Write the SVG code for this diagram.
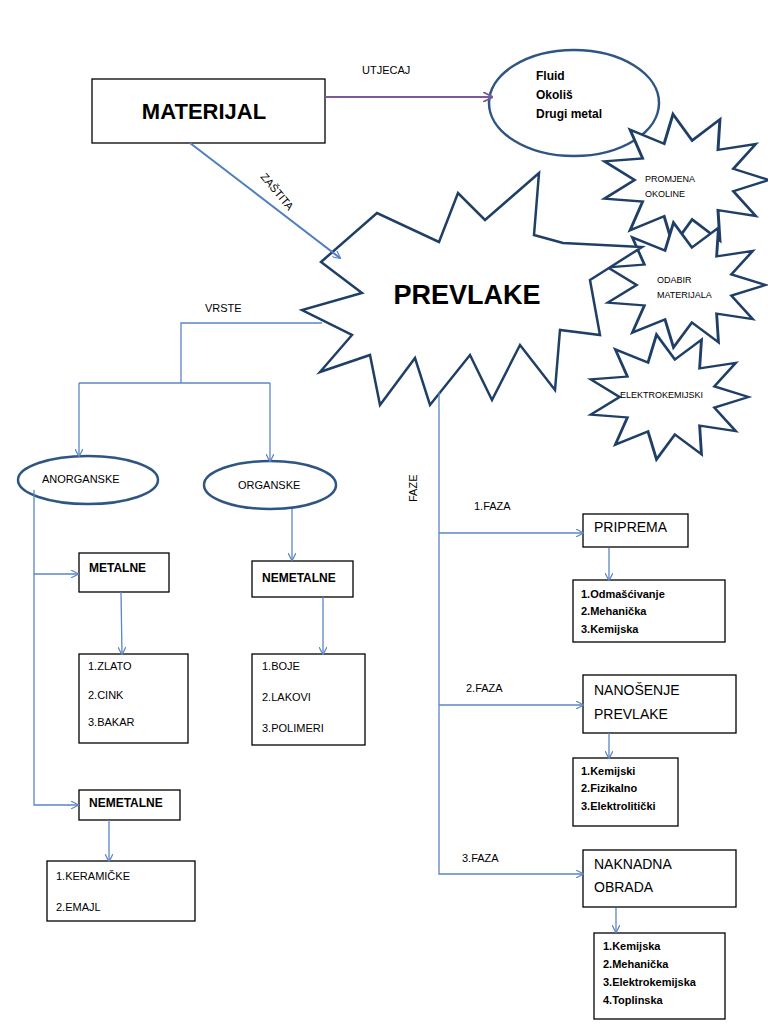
<svg xmlns="http://www.w3.org/2000/svg" width="768" height="1024" viewBox="0 0 768 1024">
<style>
text{font-family:"Liberation Sans",Arial,sans-serif;fill:#000}
.box{fill:#fff;stroke:#000;stroke-width:1.3}
.ell{fill:#fff;stroke:#2e5584;stroke-width:2.5}
.star{fill:#fff;stroke:#1f3f66;stroke-width:2.5;stroke-linejoin:miter}
.ln{fill:none;stroke:#5b86c4;stroke-width:1.3}
.s{font-size:11px}
.m{font-size:12px}
.b{font-weight:bold}
</style>
<defs>
<marker id="a" viewBox="0 0 10 10" refX="9" refY="5" markerWidth="8" markerHeight="8" orient="auto" markerUnits="userSpaceOnUse"><path d="M0,0 L10,5 L0,10" fill="none" stroke="#5b86c4" stroke-width="1.5"/></marker>
<marker id="ap" viewBox="0 0 10 10" refX="9" refY="5" markerWidth="10" markerHeight="10" orient="auto" markerUnits="userSpaceOnUse"><path d="M0,0 L10,5 L0,10" fill="none" stroke="#7a5a9a" stroke-width="1.8"/></marker>
<path id="st" d="M70,0 L40.3,11.8 L58.9,37.8 L27.5,31.7 L29.1,63.7 L6,41.6 L-10,69.3 L-17.4,38.2 L-45.8,52.9 L-35.3,22.7 L-67.2,19.7 L-42,0 L-67.2,-19.7 L-35.3,-22.7 L-45.8,-52.9 L-17.4,-38.2 L-10,-69.3 L6,-41.6 L29.1,-63.7 L27.5,-31.7 L58.9,-37.8 L40.3,-11.8 Z"/>
</defs>

<g id="materijal"><rect class="box" x="92" y="79" width="233" height="64" stroke="#2e5584" stroke-width="2.5"/><text x="204" y="119" font-size="22" font-weight="bold" text-anchor="middle">MATERIJAL</text></g>
<g id="fluid"><ellipse class="ell" cx="574" cy="103" rx="85" ry="53"/><text class="m b" x="536" y="80">Fluid</text><text class="m b" x="536" y="99">Okoliš</text><text class="m b" x="536" y="118">Drugi metal</text></g>
<g id="promjena"><use href="#st" class="star" transform="translate(685,180) scale(1.2,0.95)"/><text font-size="9" x="645" y="182">PROMJENA</text><text font-size="9" x="645" y="197">OKOLINE</text></g>
<g id="odabir"><use href="#st" class="star" transform="translate(685,285) scale(1.15,0.9)"/><text font-size="9" x="657" y="283">ODABIR</text><text font-size="9" x="657" y="298">MATERIJALA</text></g>
<g id="elektrokemijski"><use href="#st" class="star" transform="translate(668,397) scale(1.15,0.9)"/><text font-size="9" x="620" y="398">ELEKTROKEMIJSKI</text></g>
<g id="prevlake"><polygon class="star" points="321,262 377,213 439,242 458,193 485,220 539,173 534,235 563,243 642,247 590,280 600,335 560,330 555,390 520,345 492,400 470,355 430,405 415,358 380,405 370,355 320,372 352,335 302,310 362,293"/><text x="467" y="304" font-size="27" font-weight="bold" text-anchor="middle">PREVLAKE</text></g>

<g id="anorganske"><ellipse class="ell" cx="88" cy="480" rx="70" ry="24"/><text class="s" x="42" y="483">ANORGANSKE</text></g>
<g id="organske"><ellipse class="ell" cx="270" cy="485" rx="66" ry="24"/><text class="s" x="238" y="489">ORGANSKE</text></g>
<g id="metalne"><rect class="box" x="79" y="553" width="90" height="39"/><text class="m b" x="89" y="572">METALNE</text></g>
<g id="nemetalne1"><rect class="box" x="252" y="561" width="101" height="36"/><text class="m b" x="262" y="582">NEMETALNE</text></g>
<g id="zlato"><rect class="box" x="79" y="654" width="109" height="89"/><text class="s" x="88" y="670">1.ZLATO</text><text class="s" x="88" y="699">2.CINK</text><text class="s" x="88" y="726">3.BAKAR</text></g>
<g id="boje"><rect class="box" x="252" y="654" width="113" height="91"/><text class="s" x="262" y="670">1.BOJE</text><text class="s" x="262" y="701">2.LAKOVI</text><text class="s" x="262" y="732">3.POLIMERI</text></g>
<g id="nemetalne2"><rect class="box" x="79" y="790" width="101" height="30"/><text class="m b" x="89" y="807">NEMETALNE</text></g>
<g id="keramicke"><rect class="box" x="47" y="861" width="148" height="60"/><text class="s" x="56" y="880">1.KERAMIČKE</text><text class="s" x="56" y="911">2.EMAJL</text></g>

<g id="priprema"><rect class="box" x="583" y="514" width="105" height="33"/><text font-size="14" x="594" y="532">PRIPREMA</text></g>
<g id="priprema-list"><rect class="box" x="573" y="580" width="152" height="62"/><text class="s b" x="581" y="598">1.Odmašćivanje</text><text class="s b" x="581" y="615">2.Mehanička</text><text class="s b" x="581" y="633">3.Kemijska</text></g>
<g id="nanosenje"><rect class="box" x="583" y="675" width="153" height="58"/><text font-size="14" x="594" y="695">NANOŠENJE</text><text font-size="14" x="594" y="719">PREVLAKE</text></g>
<g id="nanosenje-list"><rect class="box" x="573" y="758" width="105" height="68"/><text class="s b" x="581" y="775">1.Kemijski</text><text class="s b" x="581" y="792">2.Fizikalno</text><text class="s b" x="581" y="810">3.Elektrolitički</text></g>
<g id="naknadna"><rect class="box" x="583" y="850" width="153" height="57"/><text font-size="14" x="594" y="869">NAKNADNA</text><text font-size="14" x="594" y="892">OBRADA</text></g>
<g id="naknadna-list"><rect class="box" x="594" y="933" width="131" height="86"/><text class="s b" x="603" y="950">1.Kemijska</text><text class="s b" x="603" y="968">2.Mehanička</text><text class="s b" x="603" y="986">3.Elektrokemijska</text><text class="s b" x="603" y="1004">4.Toplinska</text></g>

<g id="connectors">
<line x1="325" y1="97" x2="492" y2="97" stroke="#7a5a9a" stroke-width="2" marker-end="url(#ap)"/>
<line x1="190" y1="143" x2="340" y2="258" stroke="#4f7fbf" stroke-width="2" marker-end="url(#a)"/>
<polyline class="ln" points="322,323 181,323 181,383"/>
<polyline class="ln" points="79,383 270,383"/>
<line class="ln" x1="79" y1="383" x2="79" y2="456" marker-end="url(#a)"/>
<line class="ln" x1="270" y1="383" x2="270" y2="461" marker-end="url(#a)"/>
<polyline class="ln" points="34,490 34,805 78,805" marker-end="url(#a)"/>
<line class="ln" x1="34" y1="574" x2="78" y2="574" marker-end="url(#a)"/>
<line class="ln" x1="121" y1="592" x2="122" y2="654" marker-end="url(#a)"/>
<line class="ln" x1="109" y1="820" x2="109" y2="861" marker-end="url(#a)"/>
<line class="ln" x1="292" y1="509" x2="292" y2="560" marker-end="url(#a)"/>
<line class="ln" x1="323" y1="597" x2="323" y2="654" marker-end="url(#a)"/>
<polyline class="ln" points="439,392 439,874 583,874" marker-end="url(#a)"/>
<line class="ln" x1="439" y1="533" x2="583" y2="533" marker-end="url(#a)"/>
<line class="ln" x1="439" y1="705" x2="583" y2="705" marker-end="url(#a)"/>
<line class="ln" x1="609" y1="548" x2="609" y2="580" marker-end="url(#a)"/>
<line class="ln" x1="609" y1="733" x2="609" y2="758" marker-end="url(#a)"/>
<line class="ln" x1="616" y1="908" x2="616" y2="932" marker-end="url(#a)"/>
<text class="s" x="362" y="74">UTJECAJ</text>
<text class="s" transform="translate(260,177) rotate(50)">ZAŠTITA</text>
<text class="s" x="205" y="312">VRSTE</text>
<text class="s" transform="translate(417,502) rotate(-90)">FAZE</text>
<text class="s" x="474" y="510">1.FAZA</text>
<text class="s" x="466" y="692">2.FAZA</text>
<text class="s" x="462" y="862">3.FAZA</text>
</g>
</svg>
